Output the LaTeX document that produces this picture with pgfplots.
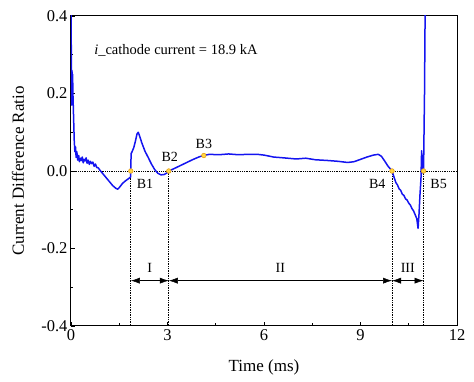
\documentclass[border=0pt]{standalone}
\usepackage{pgfplots}
\pgfplotsset{compat=1.18}
\usepackage{fontspec}
\setmainfont{Liberation Serif}
\usetikzlibrary{arrows.meta}
\definecolor{curveblue}{RGB}{20,20,240}
\definecolor{ptfill}{RGB}{255,214,70}
\definecolor{ptedge}{RGB}{232,160,20}
\begin{document}
\begin{tikzpicture}
\begin{axis}[
  scale only axis, width=386pt, height=310pt,
  xmin=0, xmax=12, ymin=-0.4, ymax=0.4,
  xtick={0,3,6,9,12}, minor xtick={1.5,4.5,7.5,10.5},
  ytick={-0.4,-0.2,0,0.2,0.4}, minor ytick={-0.3,-0.1,0.1,0.3},
  tick pos=left, tick align=inside,
  major tick length=4pt, minor tick length=2.5pt,
  every tick/.style={black, line width=0.8pt},
  axis line style={line width=1pt},
  /pgf/number format/assume math mode=true,
  yticklabel style={/pgf/number format/.cd, fixed, fixed zerofill, precision=1},
  ticklabel style={font=\fontsize{16.5}{19}\selectfont},
  label style={font=\fontsize{17}{20}\selectfont},
  xlabel={Time (ms)}, ylabel={Current Difference Ratio},
  xlabel style={at={([yshift=-41pt]axis description cs:0.5,0)}, anchor=center},
  ylabel style={at={([xshift=-53pt]axis description cs:0,0.5)}, anchor=center},
  clip mode=individual,
]
\path ([shift={(-71pt,-56pt)}]rel axis cs:0,0) rectangle ([shift={(17pt,16pt)}]rel axis cs:1,1);
% zero line
\addplot[black, densely dotted, line width=0.8pt] coordinates {(0,0) (12,0)};
% vertical dotted lines
\addplot[black, densely dotted, line width=0.7pt] coordinates {(1.86,0) (1.86,-0.4)};
\addplot[black, densely dotted, line width=0.7pt] coordinates {(3.04,0) (3.04,-0.4)};
\addplot[black, densely dotted, line width=0.7pt] coordinates {(9.98,0) (9.98,-0.4)};
\addplot[black, densely dotted, line width=0.7pt] coordinates {(10.96,0) (10.96,-0.4)};
% curve
\addplot[curveblue, line width=1.5pt, line join=round] coordinates {
(0.000,0.42) (0.010,0.30) (0.020,0.17) (0.030,0.26) (0.040,0.23) (0.050,0.25)
(0.060,0.20) (0.080,0.14) (0.100,0.08) (0.120,0.05) (0.140,0.062) (0.160,0.035)
(0.180,0.050) (0.210,0.028) (0.240,0.040) (0.260,0.024) (0.300,0.033) (0.320,0.027)
(0.350,0.036) (0.380,0.021) (0.410,0.030) (0.440,0.026) (0.470,0.034) (0.500,0.020)
(0.530,0.028) (0.570,0.017) (0.600,0.025) (0.640,0.019) (0.680,0.023) (0.720,0.012)
(0.760,0.018) (0.800,0.009) (0.850,0.008)
(0.900,0.002) (0.950,-0.003) (1.000,-0.008) (1.100,-0.018) (1.200,-0.028)
(1.300,-0.038) (1.400,-0.045) (1.450,-0.047) (1.500,-0.043) (1.600,-0.032)
(1.700,-0.025) (1.800,-0.019) (1.850,-0.016) (1.870,0.045) (1.900,0.050)
(1.950,0.060) (2.000,0.076) (2.050,0.095) (2.090,0.100) (2.130,0.091)
(2.200,0.073) (2.300,0.051) (2.400,0.035) (2.500,0.018) (2.600,0.004)
(2.700,-0.006) (2.800,-0.010) (2.900,-0.009) (3.000,-0.004) (3.040,0.000)
(3.200,0.006) (3.400,0.014) (3.600,0.022) (3.800,0.030) (4.000,0.037)
(4.130,0.040) (4.300,0.043) (4.600,0.042) (4.900,0.044) (5.200,0.042)
(5.500,0.043) (5.800,0.043) (6.000,0.041) (6.300,0.036) (6.600,0.034)
(7.000,0.031) (7.300,0.033) (7.600,0.029) (8.000,0.027) (8.300,0.025)
(8.600,0.022) (8.800,0.024) (9.000,0.030) (9.200,0.036) (9.400,0.041)
(9.550,0.043) (9.650,0.038) (9.750,0.026) (9.850,0.013) (9.980,0.000)
(10.050,-0.018) (10.100,-0.030) (10.150,-0.036) (10.200,-0.046) (10.250,-0.050)
(10.300,-0.060) (10.350,-0.063) (10.400,-0.072) (10.450,-0.075) (10.500,-0.083)
(10.550,-0.088) (10.600,-0.097) (10.650,-0.103) (10.700,-0.113) (10.750,-0.123)
(10.790,-0.148) (10.820,-0.110) (10.850,-0.060) (10.880,-0.020) (10.900,0.052)
(10.920,0.020) (10.940,-0.005) (10.960,0.000) (10.990,0.200) (11.010,0.420)
};
% B points
\addplot[only marks, mark=*, mark size=2.3pt, mark options={fill=ptfill, draw=ptedge, line width=0.6pt}]
 coordinates {(1.86,0) (3.04,0) (4.13,0.040) (9.98,0) (10.96,0)};
% labels
\node[font=\fontsize{14}{16}\selectfont] at (axis cs:2.30,-0.034) {B1};
\node[font=\fontsize{14}{16}\selectfont] at (axis cs:3.07,0.036) {B2};
\node[font=\fontsize{14}{16}\selectfont] at (axis cs:4.13,0.070) {B3};
\node[font=\fontsize{14}{16}\selectfont] at (axis cs:9.52,-0.034) {B4};
\node[font=\fontsize{14}{16}\selectfont] at (axis cs:11.43,-0.034) {B5};
\node[font=\fontsize{14}{16}\selectfont] at (axis cs:2.45,-0.250) {I};
\node[font=\fontsize{14}{16}\selectfont] at (axis cs:6.51,-0.250) {II};
\node[font=\fontsize{14}{16}\selectfont] at (axis cs:10.47,-0.250) {III};
\node[font=\fontsize{14.5}{17}\selectfont] at (axis cs:3.26,0.312) {\textit{i}\_cathode current = 18.9 kA};
% arrows
\draw[{Latex[length=9pt,width=6pt]}-{Latex[length=9pt,width=6pt]}, line width=0.5pt] (axis cs:1.86,-0.283) -- (axis cs:3.04,-0.283);
\draw[{Latex[length=9pt,width=6pt]}-{Latex[length=9pt,width=6pt]}, line width=0.5pt] (axis cs:3.04,-0.283) -- (axis cs:9.98,-0.283);
\draw[{Latex[length=9pt,width=6pt]}-{Latex[length=9pt,width=6pt]}, line width=0.5pt] (axis cs:9.98,-0.283) -- (axis cs:10.96,-0.283);
\end{axis}
\end{tikzpicture}
\end{document}
